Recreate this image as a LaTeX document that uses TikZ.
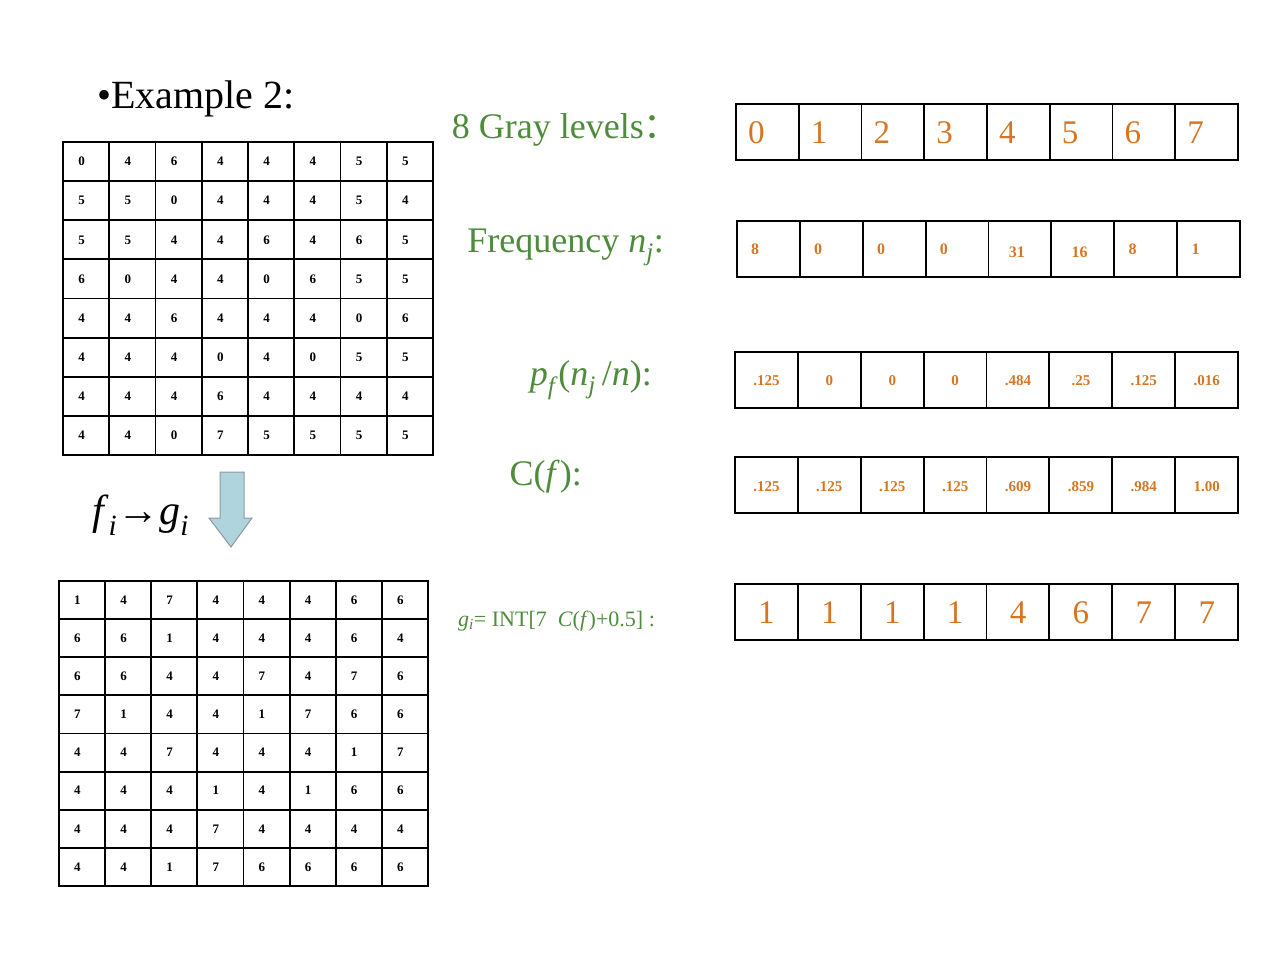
\documentclass[tikz,border=0pt]{standalone}
\usepackage{fontspec}
\setmainfont{Liberation Serif}
\newfontfamily\cjk{Noto Sans CJK SC}
\definecolor{gr}{RGB}{78,140,60}
\definecolor{og}{RGB}{214,118,36}
\definecolor{ab}{RGB}{175,212,222}
\newcommand{\sbi}[1]{\textsubscript{\textit{#1}}}
\begin{document}
\begin{tikzpicture}[x=1pt,y=-1pt,
  cell/.style={font=\fontsize{13}{13}\selectfont\bfseries,inner sep=0pt},
  lab/.style={text=gr,font=\fontsize{36}{36}\selectfont,inner sep=0pt},
  big/.style={text=og,font=\fontsize{33}{33}\selectfont,inner sep=0pt,anchor=west},
  sm/.style={text=og,font=\fontsize{16}{16}\selectfont\bfseries,inner sep=0pt}]
\fill[white] (0,0) rectangle (1280,960);
\useasboundingbox (0,0) rectangle (1280,960);
\node[anchor=west,font=\fontsize{40}{40}\selectfont,inner sep=0pt] (ex) at (97,99) {\textbullet Example 2:};
\newcommand{\mygrid}[6]{%
  \draw[line width=2.5pt] (#1,#2) rectangle (#3,#4);
  \foreach \i in {1,...,7}{
    \draw[line width=1.8pt] ({#1+\i*(#3-#1)/8},#2) -- ({#1+\i*(#3-#1)/8},#4);
    \draw[line width=1.8pt] (#1,{#2+\i*(#4-#2)/8}) -- (#3,{#2+\i*(#4-#2)/8});}
  \foreach \row [count=\r from 0] in {#6}{
    \foreach \v [count=\c from 0] in \row{
      \node[cell] (#5-\r-\c) at ({#1+(\c+0.4)*(#3-#1)/8},{#2+(\r+0.5)*(#4-#2)/8}) {\v};}}}
\mygrid{63}{142}{433}{455}{A}{{0,4,6,4,4,4,5,5},{5,5,0,4,4,4,5,4},{5,5,4,4,6,4,6,5},{6,0,4,4,0,6,5,5},{4,4,6,4,4,4,0,6},{4,4,4,0,4,0,5,5},{4,4,4,6,4,4,4,4},{4,4,0,7,5,5,5,5}}
\mygrid{59}{581}{428}{886}{B}{{1,4,7,4,4,4,6,6},{6,6,1,4,4,4,6,4},{6,6,4,4,7,4,7,6},{7,1,4,4,1,7,6,6},{4,4,7,4,4,4,1,7},{4,4,4,1,4,1,6,6},{4,4,4,7,4,4,4,4},{4,4,1,7,6,6,6,6}}
\draw[draw=gray!70!ab,fill=ab,line width=1pt] (220,472) -- (244,472) -- (244,518) -- (252,518) -- (231,547) -- (209,518) -- (220,518) -- cycle;
\node[anchor=west,font=\fontsize{42}{42}\selectfont,inner sep=0pt] (fg) at (92,515) {\textit{f}\sbi{i}→\textit{g}\sbi{i}};
\node[lab,anchor=east] (l1) at (680,130) {8 Gray levels{\cjk ：}};
\node[lab,anchor=east] (l2) at (664,247) {Frequency \textit{n}\sbi{j}:};
\node[lab,anchor=east] (l3) at (652,380) {\textit{p}\sbi{f}(\textit{n}\sbi{j}\,/\textit{n}):};
\node[lab,anchor=east] (l4) at (582,477) {C(\textit{f}):};
\node[text=gr,font=\fontsize{22}{22}\selectfont,inner sep=0pt,anchor=west] (l5) at (458,621) {\textit{g}\sbi{i}= INT[7\ \ \textit{C}(\textit{f})+0.5] :};
\newcommand{\myrow}[4]{%
  \draw[line width=2.5pt] (#1,#2) rectangle (#3,#4);
  \foreach \i in {1,...,7}{\draw[line width=1.8pt] ({#1+\i*(#3-#1)/8},#2) -- ({#1+\i*(#3-#1)/8},#4);}}
\myrow{736}{104}{1238}{160}
\foreach \v [count=\c from 0] in {0,...,7}{\node[big] (g\c) at ({736+\c*62.75+12},133) {\v};}
\myrow{737}{221}{1240}{277}
\foreach \v/\dx/\dy [count=\c from 0] in {8/14/0,0/14/0,0/14/0,0/14/0,31/20/3,16/20/3,8/14/0,1/14/0}{\node[sm,anchor=west] (f\c) at ({737+\c*62.9+\dx},{249+\dy}) {\v};}
\myrow{735}{352}{1238}{408}
\foreach \v [count=\c from 0] in {.125,0,0,0,.484,.25,.125,.016}{\node[sm,font=\fontsize{15}{15}\selectfont\bfseries] (p\c) at ({735+(\c+0.5)*62.9},381) {\v};}
\myrow{735}{457}{1238}{513}
\foreach \v [count=\c from 0] in {.125,.125,.125,.125,.609,.859,.984,1.00}{\node[sm,font=\fontsize{15}{15}\selectfont\bfseries] (c\c) at ({735+(\c+0.5)*62.9},487) {\v};}
\myrow{735}{584}{1238}{640}
\foreach \v [count=\c from 0] in {1,1,1,1,4,6,7,7}{\node[big,anchor=center] (q\c) at ({735+(\c+0.5)*62.9},613) {\v};}
\end{tikzpicture}
\end{document}
